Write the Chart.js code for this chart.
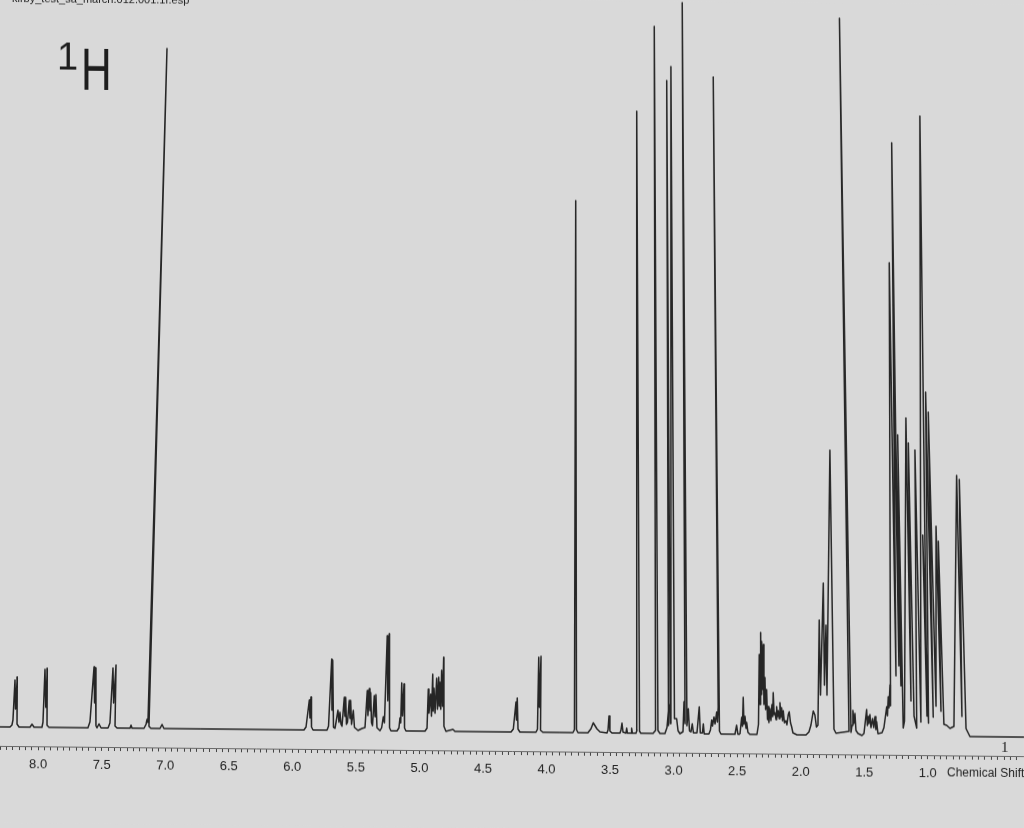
<!DOCTYPE html>
<html>
<head>
<meta charset="utf-8">
<script src="https://cdn.jsdelivr.net/npm/chart.js@4.4.1/dist/chart.umd.min.js"></script>
<style>
  html, body { margin: 0; padding: 0; background: #d9d9d9; overflow: hidden; }
  #wrap { width: 1024px; height: 828px; }
  canvas { display: block; transform: skewY(0.573deg); transform-origin: 512px 414px; }
</style>
</head>
<body>
<div id="wrap"><canvas id="c" width="1024" height="828"></canvas></div>
<script>
// ---- data (chemical shift in ppm, intensity in arbitrary units) ----
const aromaticShift = [8.300,8.221,8.206,8.198,8.182,8.178,8.164,8.166,8.150,8.064,8.048,8.032,7.970,7.962,7.946,7.940,7.928,7.930,7.914,7.608,7.592,7.560,7.556,7.549,7.545,7.537,7.521,7.505,7.450,7.435,7.411,7.406,7.387,7.395,7.379,7.277,7.269,7.261,7.167,7.151,7.143,7.136,6.986,7.128,7.112,7.041,7.025,7.010,6.726];
const aromaticIntensity = [0,0,2,7,47,18,50,3,0,0,3,0,0,5,58,20,59,2,0,0,6,61,25,60,2,0,4,0,0,5,60,25,63,2,0,0,3,0,0,4,9,6,680,2,0,0,4,0,0];

const olefinicShift = [6.726,5.908,5.892,5.866,5.861,5.853,5.849,5.837,
  5.727,5.715,5.690,5.688,5.682,5.676,5.664,5.656,5.641,5.633,5.625,5.617,
  5.609,5.591,5.586,5.580,5.574,5.566,5.552,5.546,5.541,5.534,5.520,5.511,5.483,5.452,
  5.428,5.410,5.405,5.394,5.389,5.383,5.377,5.369,5.355,5.349,5.342,5.334,5.310,
  5.297,5.284,5.275,5.253,5.249,5.237,5.235,5.224,5.176,
  5.161,5.153,5.147,5.139,5.133,5.121,5.117,5.106,4.956,
  4.940,4.930,4.925,4.911,4.905,4.895,4.892,4.885,4.877,4.864,4.858,4.848,4.844,4.838,4.832,4.825,4.818,4.809,4.807,4.791,4.736,4.720,
  4.279,4.261,4.240,4.236,4.230,4.224,4.209,
  4.083,4.071,4.061,4.056,4.043,4.047,4.028,3.894];
const olefinicIntensity = [0,0,3,30,12,33,3,0,
  0,4,71,20,70,3,2,8,20,8,18,6,
  4,33,14,33,6,8,30,12,30,6,20,3,0,2,
  3,40,15,42,20,38,8,5,35,14,36,3,0,
  3,14,8,95,30,97,3,0,0,
  3,13,8,48,15,47,3,0,0,
  3,42,18,37,15,57,20,43,18,53,22,54,25,49,22,61,25,74,5,0,2,0,
  0,3,30,12,34,3,0,
  0,3,75,25,76,2,0,0];

const midShift = [3.894,3.792,3.780,3.770,3.764,3.752,
  3.674,3.650,3.632,3.603,3.579,3.524,3.516,3.508,3.501,3.485,
  3.422,3.414,3.406,3.398,3.375,3.369,3.363,3.335,3.330,3.324,
  3.296,3.288,3.290,3.268,3.257,3.162,3.142,3.152,3.123,3.107,
  3.068,3.052,3.036,3.040,3.054,3.025,3.021,2.993,2.976,2.965,2.950,
  2.926,2.918,2.910,2.932,2.895,2.884,2.875,2.863,2.853,2.844,2.816,2.798,2.790,2.773,2.766,2.759,
  2.722,2.710,2.700,2.694,2.682,2.674,2.661,2.655,2.649,2.688,2.639,2.627,2.517,2.504,2.494,2.478];
const midIntensity = [0,0,3,532,3,0,
  0,4,10,4,1,0,3,17,2,0,
  0,3,10,1,0,5,0,0,5,0,
  0,3,622,2,0,0,3,707,3,0,
  0,6,29,8,653,10,667,15,15,3,0,
  2,32,10,731,8,25,3,2,10,1,1,27,1,1,10,0,
  0,4,14,8,17,10,22,12,27,657,3,0,0,9,0,0];

const aliphaticShift = [2.478,2.464,2.458,2.452,2.446,2.438,2.430,2.425,2.415,2.399,
  2.344,2.332,2.326,2.320,2.315,2.311,2.307,2.301,2.294,2.289,2.281,2.276,2.268,2.261,2.255,2.250,2.242,2.234,2.226,2.220,2.216,2.209,2.202,2.194,2.189,2.183,2.176,2.169,2.163,2.155,2.150,2.143,2.137,2.128,2.116,2.108,2.098,2.090,2.080,2.071,2.061,2.029,
  1.958,1.935,1.919,1.901,1.888,1.876,1.864,1.854,1.844,1.822,1.813,1.801,1.793,1.770,1.738,1.722,1.620,1.695,1.604,1.596,1.589,1.581,1.573,1.565,1.549,1.518,
  1.502,1.481,1.475,1.468,1.463,1.455,1.447,1.434,1.425,1.415,1.408,1.402,1.392,1.360,1.345,1.323,1.317,1.311,1.305,1.297,1.293,
  1.303,1.250,1.284,1.227,1.274,1.211,1.237,1.193,1.183,1.172,1.132,1.153,1.108,1.087,1.101,1.054,1.062,1.006,1.040,0.994,1.017,0.957,0.996,0.935,0.935,0.896,0.917,0.873,0.851,0.825,0.794,0.773,0.731,0.752,0.699,0.668,0.243];
const aliphaticIntensity = [0,17,8,37,10,18,6,12,2,0,
  0,10,80,30,102,40,93,45,90,30,57,25,45,15,28,12,26,14,30,18,42,20,22,15,28,18,24,16,32,18,27,14,24,12,14,10,20,23,12,8,2,0,
  0,3,10,24,20,8,10,115,40,152,50,110,40,285,6,2,4,717,3,10,25,12,22,5,2,0,
  2,26,10,19,12,21,8,17,8,19,6,14,2,3,8,29,20,39,28,51,30,
  473,60,593,70,432,50,301,8,15,318,35,293,20,8,286,14,620,20,201,13,344,19,324,30,210,25,195,12,11,8,10,261,20,257,8,0,0];

const majorTicks = [8.0,7.5,7.0,6.5,6.0,5.5,5.0,4.5,4.0,3.5,3.0,2.5,2.0,1.5,1.0];
const fileTitle = 'kirby_test_sa_march.012.001.1r.esp';
const nucleusLabel = ['1', 'H'];
const axisTitle = 'Chemical Shift';
const integralLabel = '1';

// ---- build datasets ----
function toPoints(xs, ys) {
  const n = Math.min(xs.length, ys.length);
  const out = [];
  for (let i = 0; i < n; i++) out.push({ x: xs[i], y: ys[i] });
  return out;
}
const INK = '#262626';
const PAPER = '#d9d9d9';
function ds(xs, ys) {
  return { data: toPoints(xs, ys), borderColor: INK, borderWidth: 1.5, pointRadius: 0, pointHoverRadius: 0,
           pointHitRadius: 0, tension: 0, borderJoinStyle: 'round', fill: false };
}

const paperPlugin = {
  id: 'paper',
  beforeDraw(chart) {
    const ctx = chart.ctx;
    ctx.save();
    ctx.fillStyle = PAPER;
    ctx.fillRect(0, 0, chart.width, chart.height);
    ctx.restore();
  },
  afterDraw(chart) {
    const ctx = chart.ctx;
    ctx.save();
    ctx.fillStyle = '#1e1e1e';
    ctx.textBaseline = 'alphabetic';
    // file name at the very top (cut off)
    ctx.font = '11px "Liberation Sans", Arial, sans-serif';
    ctx.fillText(fileTitle, 12, 7);
    // nucleus label
    ctx.font = '38px "Liberation Sans", Arial, sans-serif';
    ctx.fillText(nucleusLabel[0], 57, 74);
    ctx.save();
    ctx.translate(81, 94);
    ctx.scale(0.72, 1);
    ctx.font = '59px "Liberation Sans", Arial, sans-serif';
    ctx.fillText(nucleusLabel[1], 0, 0);
    ctx.restore();
    // axis title
    ctx.font = '12px "Liberation Sans", Arial, sans-serif';
    ctx.fillStyle = '#222';
    ctx.textBaseline = 'middle';
    ctx.fillText(axisTitle, 947, 769);
    // integral value
    ctx.font = '15px "Liberation Serif", "Times New Roman", serif';
    ctx.fillText(integralLabel, 1001, 743);
    ctx.restore();
  }
};

new Chart(document.getElementById('c'), {
  type: 'line',
  data: { datasets: [
    ds(aromaticShift, aromaticIntensity),
    ds(olefinicShift, olefinicIntensity),
    ds(midShift, midIntensity),
    ds(aliphaticShift, aliphaticIntensity)
  ] },
  options: {
    responsive: false,
    animation: false,
    devicePixelRatio: 1,
    layout: { padding: 0, autoPadding: false },
    plugins: { legend: { display: false }, tooltip: { enabled: false }, title: { display: false } },
    scales: {
      x: {
        type: 'linear',
        reverse: true,
        min: 0.243,
        max: 8.300,
        afterFit(scale) { scale.height = 77; scale.paddingLeft = 0; scale.paddingRight = 0; },
        border: { display: true, color: '#6a6a6a', width: 1 },
        grid: { drawOnChartArea: false, drawTicks: true, tickLength: 4, tickColor: '#444', tickWidth: 1 },
        ticks: {
          stepSize: 0.05,
          autoSkip: false,
          maxRotation: 0,
          padding: 7,
          color: '#222',
          font: { family: '"Liberation Sans", Arial, sans-serif', size: 13 },
          callback(v) {
            const hit = majorTicks.find(t => Math.abs(t - v) < 1e-6);
            return hit === undefined ? '' : hit.toFixed(1);
          }
        }
      },
      y: { display: false, min: -19, max: 732 }
    }
  },
  plugins: [paperPlugin]
});
</script>
</body>
</html>
